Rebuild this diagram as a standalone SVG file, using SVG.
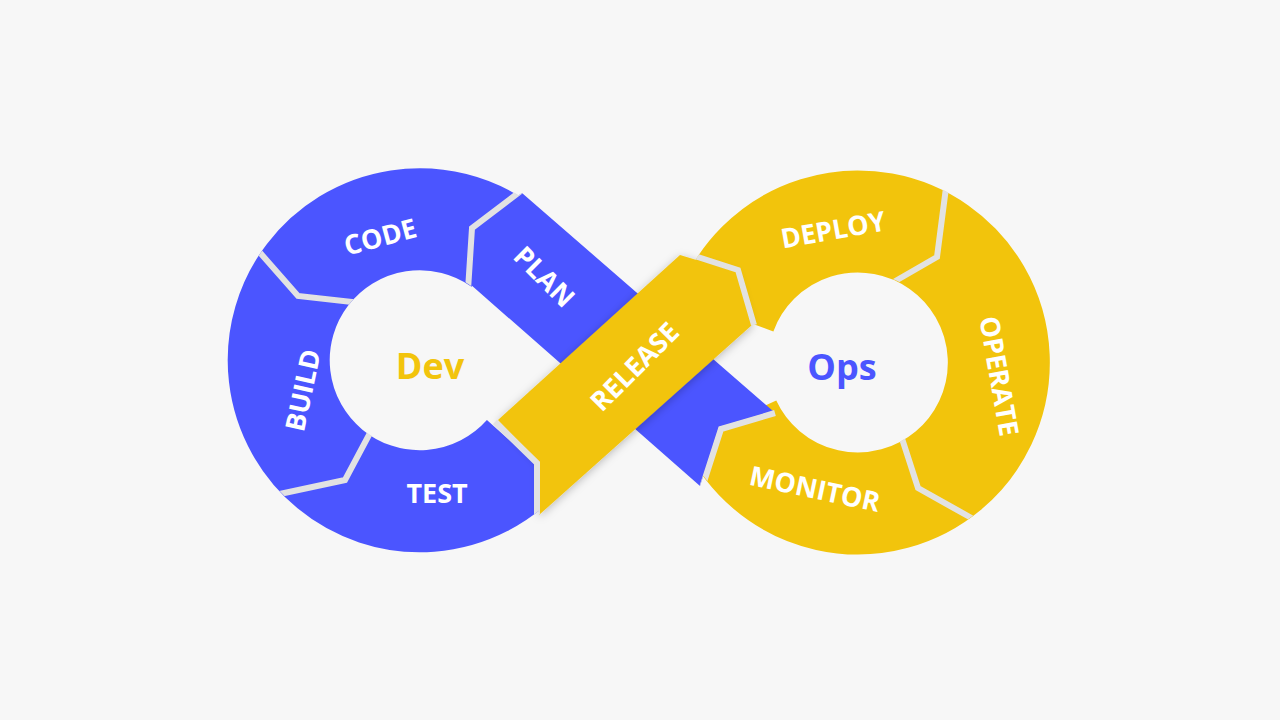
<svg xmlns="http://www.w3.org/2000/svg" width="1280" height="720" viewBox="0 0 1280 720">
<defs>
<filter id="sh" x="-20%" y="-20%" width="140%" height="140%"><feDropShadow dx="0" dy="2" stdDeviation="4" flood-color="#000" flood-opacity="0.25"/></filter>
<clipPath id="shapes">
<path clip-rule="evenodd" d="M228,360 a192,192 0 1 0 384,0 a192,192 0 1 0 -384,0 Z M330,360 a90,90 0 1 0 180,0 a90,90 0 1 0 -180,0 Z"/>
<path clip-rule="evenodd" d="M666,362 a192,192 0 1 0 384,0 a192,192 0 1 0 -384,0 Z M768,362 a90,90 0 1 0 180,0 a90,90 0 1 0 -180,0 Z"/>
<polygon points="522,193 773,411 719,427 700,486 470,284 472,228"/>
<polygon points="498,420 680,255 736,272 752,325 539,515 539,462"/>
</clipPath>
</defs>
<style>
.blue{fill:#4b55ff}.yel{fill:#f2c40c}
.ringb{fill:none;stroke:#4b55ff;stroke-width:102}
.ringy{fill:none;stroke:#f2c40c;stroke-width:102}
.gap{fill:none;stroke:#e2e2e2;stroke-width:6;stroke-linejoin:miter}
.lbl{font-family:"Open Sans","DejaVu Sans",sans-serif;font-weight:bold;font-size:27px;fill:#fff;text-anchor:middle;dominant-baseline:central}
.big{font-family:"Open Sans","DejaVu Sans",sans-serif;font-weight:bold;font-size:36px;text-anchor:middle;dominant-baseline:central}
</style>
<rect width="1280" height="720" fill="#f7f7f7"/>
<g id="dev-ring"><path class="ringb" d="M501,245 A141,141 0 1 0 525,454"/></g>
<g id="ops-ring"><path class="ringy" d="M725.5,313.8 A141,141 0 1 1 730,422"/></g>
<g id="plan"><polygon class="blue" points="522,193 773,411 719,427 700,486 470,284 472,228"/></g>
<g id="release"><polygon class="yel" filter="url(#sh)" points="498,420 680,255 736,272 752,325 539,515 539,462"/></g>
<g id="connectors" clip-path="url(#shapes)">
<polyline class="gap" points="255,247 298,296 370,304"/>
<polyline class="gap" points="275,495 345,480 378,418"/>
<polyline class="gap" points="530,184 472,228 468,290"/>
<polyline class="gap" points="947,180 937,257 885,287"/>
<polyline class="gap" points="896,420 918,488 975,520"/>
<polyline class="gap" points="495,422 537,463 537,522"/>
<polyline class="gap" points="682,252 738,270 754,325"/>
<polyline class="gap" points="775,413 721,429 702,488"/>
</g>
<g id="labels">
<text class="lbl" transform="translate(380,236) rotate(-15)">CODE</text>
<text class="lbl" transform="translate(302,390) rotate(-78)">BUILD</text>
<text class="lbl" transform="translate(437,492)">TEST</text>
<text class="lbl" transform="translate(545,276) rotate(45)">PLAN</text>
<text class="lbl" transform="translate(634,366) rotate(-45)">RELEASE</text>
<text class="lbl" transform="translate(833,229) rotate(-10)">DEPLOY</text>
<text class="lbl" transform="translate(1000,376) rotate(80)">OPERATE</text>
<text class="lbl" transform="translate(815,488) rotate(12)">MONITOR</text>
<text class="big" x="430" y="365" fill="#f2c40c">Dev</text>
<text class="big" x="842" y="366" fill="#4b55ff">Ops</text>
</g>
</svg>
